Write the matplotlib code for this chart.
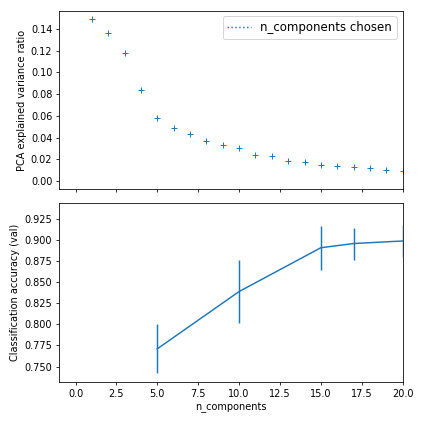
import numpy as np
import matplotlib
matplotlib.use("Agg")
import matplotlib.pyplot as plt

# explained variance ratio of the first components
var_ratio = [0.1489, 0.1362, 0.1179, 0.0841, 0.0578, 0.0492, 0.0432, 0.0366,
             0.0335, 0.0308, 0.0237, 0.0227, 0.0182, 0.0177, 0.0147, 0.0141,
             0.0132, 0.0125, 0.0102, 0.0091, 0.0089, 0.0080]

# grid search results
n_comp = [5, 10, 15, 17, 20]
acc_mean = [0.771, 0.839, 0.891, 0.896, 0.899]
acc_std = [0.029, 0.037, 0.026, 0.019, 0.019]

# chosen value lies past the visible range
chosen = 30

fig, (ax0, ax1) = plt.subplots(nrows=2, sharex=True, figsize=(6, 6), dpi=424 / 6)

ax0.plot(np.arange(1, len(var_ratio) + 1), var_ratio, "+", linewidth=2)
ax0.set_ylabel("PCA explained variance ratio")
ax0.axvline(chosen, linestyle=":", label="n_components chosen")
ax0.legend(prop=dict(size=12))
ax0.set_ylim(-0.0075, 0.1567)

ax1.errorbar(n_comp, acc_mean, yerr=acc_std)
ax1.set_ylabel("Classification accuracy (val)")
ax1.set_xlabel("n_components")
ax1.set_ylim(0.7314, 0.9436)

plt.xlim(-1, 20)
plt.tight_layout()
plt.savefig("out.png")
